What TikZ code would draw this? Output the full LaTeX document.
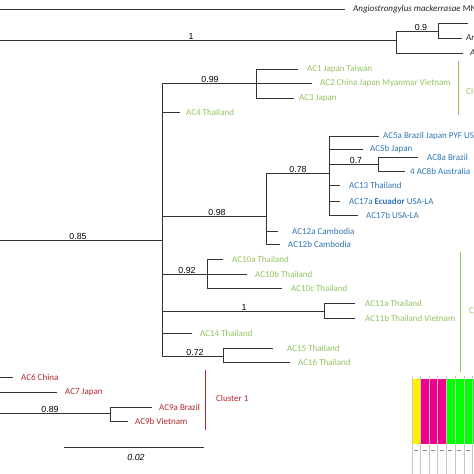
\documentclass[tikz,border=0pt]{standalone}
\usepackage{fontspec}
\setmainfont{Carlito}
\newfontfamily\numfont{Liberation Sans}
\definecolor{tgreen}{HTML}{92C460}
\definecolor{tblue}{HTML}{2E75B6}
\definecolor{tred}{HTML}{B0262B}
\definecolor{tline}{HTML}{333333}
\definecolor{gridc}{HTML}{C8C8C8}
\tikzset{
  br/.style={draw=tline, line width=1pt},
  lab/.style={inner sep=0pt, font=\fontsize{9}{10}\selectfont},
  gl/.style={text=tgreen}, bl/.style={text=tblue}, rl/.style={text=tred}, ol/.style={text=black!85},
  num/.style={inner sep=0.6pt, anchor=south, font=\numfont\fontsize{8.8}{10}\selectfont, text=black},
  bracket/.style={line width=1pt},
}
\newcommand{\leaf}[7]{%
  \coordinate (#1e) at (#4,#3);
  \node[lab,#6,anchor=west] (#1) at (#5,#3) {#7};
  \draw[br] (#2 |- #1e) -- (#1e);
}
\begin{document}
\begin{tikzpicture}[x=1pt,y=-1pt]
\fill[white] (0,0) rectangle (474,474);
\clip (0,0) rectangle (474,474);
\coordinate (L) at (0,0);
% outgroup
\leaf{am}{L}{9}{345}{353}{ol}{\itshape Angiostrongylus mackerrasae \upshape MN}
\coordinate (nA) at (396,40);
\draw[br] (L |- nA) -- (nA);
\node[num] (l1a) at (191,40) {1};
\coordinate (nB) at (438,31);
\draw[br] (nA |- nB) -- (nB);
\node[num] (l09) at (421,31) {0.9};
\coordinate (o1e) at (468,23);
\draw[br] (nB |- o1e) -- (o1e);
\leaf{o2}{nB}{38}{462}{466}{ol}{\itshape An}
\leaf{o3}{nA}{53}{463}{470}{ol}{\itshape A}
\draw[br] (nB |- o1e) -- (nB |- o2e);
\draw[br] (nA |- nB) -- (nA |- o3e);
% main clade
\coordinate (R) at (162,240);
\draw[br] (L |- R) -- (R);
\node[num] (l85) at (78,240) {0.85};
% 0.99
\coordinate (c99) at (256,83);
\draw[br] (R |- c99) -- (c99);
\node[num] (l99) at (210,83) {0.99};
\leaf{ac1}{c99}{69}{298}{307}{gl}{AC1 Japan Taiwan}
\leaf{ac2}{c99}{83}{312}{320}{gl}{AC2 China Japan Myanmar Vietnam}
\leaf{ac3}{c99}{98}{294}{299}{gl}{AC3 Japan}
\draw[br] (c99 |- ac1e) -- (c99 |- ac3e);
\leaf{ac4}{R}{112}{180}{186}{gl}{AC4 Thailand}
% 0.98
\coordinate (c98) at (266,216);
\draw[br] (R |- c98) -- (c98);
\node[num] (l98) at (217,216) {0.98};
\coordinate (c78) at (329,173);
\draw[br] (c98 |- c78) -- (c78);
\node[num] (l78) at (298,173) {0.78};
\leaf{ac5a}{c78}{136}{379}{383}{bl}{AC5a Brazil Japan PYF USA-LA}
\leaf{ac5b}{c78}{149}{363}{370}{bl}{AC5b Japan}
\coordinate (c7) at (378,164);
\draw[br] (c78 |- c7) -- (c7);
\node[num] (l7) at (356,164) {0.7};
\leaf{ac8a}{c7}{157}{418}{427}{bl}{AC8a Brazil}
\leaf{ac8b}{c7}{171}{405}{410}{bl}{4 AC8b Australia}
\draw[br] (c7 |- ac8ae) -- (c7 |- ac8be);
\leaf{ac13}{c78}{185}{340}{349}{bl}{AC13 Thailand}
\leaf{ac17a}{c78}{201}{340}{349}{bl}{AC17a \textbf{Ecuador} USA-LA}
\leaf{ac17b}{c78}{215}{358}{366}{bl}{AC17b USA-LA}
\draw[br] (c78 |- ac5ae) -- (c78 |- ac17be);
\leaf{ac12a}{c98}{231}{278}{292}{bl}{AC12a Cambodia}
\leaf{ac12b}{c98}{244}{280}{288}{bl}{AC12b Cambodia}
\draw[br] (c98 |- c78) -- (c98 |- ac12be);
% 0.92
\coordinate (c92) at (207,274);
\draw[br] (R |- c92) -- (c92);
\node[num] (l92) at (187,274) {0.92};
\leaf{ac10a}{c92}{259}{223}{232}{gl}{AC10a Thailand}
\leaf{ac10b}{c92}{274}{247}{255}{gl}{AC10b Thailand}
\leaf{ac10c}{c92}{288}{282}{291}{gl}{AC10c Thailand}
\draw[br] (c92 |- ac10ae) -- (c92 |- ac10ce);
% 1
\coordinate (c1) at (324,311);
\draw[br] (R |- c1) -- (c1);
\node[num] (l1b) at (244,311) {1};
\leaf{ac11a}{c1}{303}{355}{365}{gl}{AC11a Thailand}
\leaf{ac11b}{c1}{318}{355}{365}{gl}{AC11b Thailand Vietnam}
\draw[br] (c1 |- ac11ae) -- (c1 |- ac11be);
\leaf{ac14}{R}{333}{192}{200}{gl}{AC14 Thailand}
% 0.72
\coordinate (c72) at (223,356);
\draw[br] (R |- c72) -- (c72);
\node[num] (l72) at (195,356) {0.72};
\leaf{ac15}{c72}{348}{273}{287}{gl}{AC15 Thailand}
\leaf{ac16}{c72}{362}{290}{298}{gl}{AC16 Thailand}
\draw[br] (c72 |- ac15e) -- (c72 |- ac16e);
\draw[br] (R |- c99) -- (R |- c72);
% cluster 1
\leaf{ac6}{L}{377}{13}{21}{rl}{AC6 China}
\leaf{ac7}{L}{392}{57}{65}{rl}{AC7 Japan}
\coordinate (c89) at (110,413);
\draw[br] (L |- c89) -- (c89);
\node[num] (l89) at (50,413) {0.89};
\leaf{ac9a}{c89}{407}{152}{159}{rl}{AC9a Brazil}
\leaf{ac9b}{c89}{421}{128}{135}{rl}{AC9b Vietnam}
\draw[br] (c89 |- ac9ae) -- (c89 |- ac9be);
% brackets
\draw[bracket, tgreen] (458,61) -- (458,115);
\node[lab,gl,anchor=west] (cl2) at (466,91) {Cl};
\draw[bracket, tgreen] (460,252) -- (460,372);
\node[lab,gl,anchor=west] (cl3) at (469,311) {C};
\draw[bracket, tred] (205,370) -- (205,430);
\node[lab,rl,anchor=west] (cl1) at (216,398) {Cluster 1};
% scale bar
\draw[line width=0.7pt, tline] (64,447) -- (204,447);
\node[font=\numfont\itshape\fontsize{8.8}{10}\selectfont, inner sep=0pt] (sc) at (136,457) {0.02};
% colour panel
\fill[yellow] (412,379) rectangle (421,444);
\fill[magenta] (421,379) rectangle (446,444);
\fill[green] (446,379) rectangle (474,444);
\foreach \x in {412.3,420.7,429.3,437.7,446,455,464,472.7}{
  \draw[gridc, line width=0.5pt] (\x,376) -- (\x,474);
  \draw[black!45, line width=0.6pt] (\x+2,450) -- (\x+6,450);
}
\end{tikzpicture}
\end{document}
